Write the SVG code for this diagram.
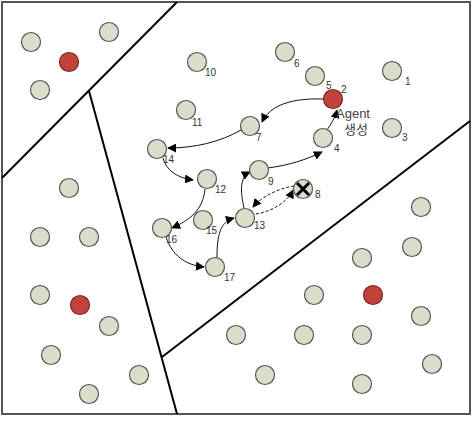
<svg xmlns="http://www.w3.org/2000/svg" width="474" height="447" viewBox="0 0 474 447">
<style>
.n{fill:#dcdccb;stroke:#555;stroke-width:1.2}
.r{fill:#c2433a;stroke:#7a2a24;stroke-width:1.2}
.b{stroke:#000;stroke-width:2;fill:none}
.c{stroke:#111;stroke-width:1;fill:none}
.d{stroke:#111;stroke-width:1;fill:none;stroke-dasharray:3,2}
text{font-family:"Liberation Sans",Arial,sans-serif;font-size:10px;fill:#333}
.a{font-family:"Liberation Sans","Noto Sans CJK KR",sans-serif;font-size:13px;fill:#444}
</style>
<defs>
<marker id="ah" viewBox="0 0 10 10" refX="9" refY="5" markerWidth="9" markerHeight="9" markerUnits="userSpaceOnUse" orient="auto"><path d="M0,0 L10,5 L0,10 z" fill="#000"/></marker>
</defs>
<rect x="0" y="0" width="474" height="447" fill="#fff"/>
<rect x="2" y="2" width="468" height="412" fill="#fff" stroke="#555" stroke-width="2"/>
<g id="borders">
<path class="b" d="M177,2 L2,178"/>
<path class="b" d="M89,91 L177,414"/>
<path class="b" d="M162,357 L470,121"/>
</g>
<g id="connectors">
<path class="c" d="M323,99 C292,98 270,105 262,122" marker-end="url(#ah)"/>
<path class="c" d="M241,130 C220,142 195,148 168,148" marker-end="url(#ah)"/>
<path class="c" d="M163,158 C166,170 177,178 193,180" marker-end="url(#ah)"/>
<path class="c" d="M205,189 C203,210 190,220 172,228" marker-end="url(#ah)"/>
<path class="c" d="M166,237 C172,255 185,265 204,267" marker-end="url(#ah)"/>
<path class="c" d="M217,258 C217,235 220,222 234,218" marker-end="url(#ah)"/>
<path class="c" d="M244,208 C240,190 240,177 250,172" marker-end="url(#ah)"/>
<path class="c" d="M268,168 C290,165 305,160 322,152" marker-end="url(#ah)"/>
<path class="c" d="M327,130 C331,124 335,118 337,110" marker-end="url(#ah)"/>
<path class="d" d="M294,186 C280,188 262,196 253,207" marker-end="url(#ah)"/>
<path class="d" d="M256,214 C270,212 287,203 293,190" marker-end="url(#ah)"/>
</g>
<g id="n-a1"><circle class="n" cx="31" cy="42" r="9.5"/></g>
<g id="n-a2"><circle class="n" cx="109" cy="32" r="9.5"/></g>
<g id="n-a3"><circle class="r" cx="69" cy="62" r="9.5"/></g>
<g id="n-a4"><circle class="n" cx="40" cy="90" r="9.5"/></g>
<g id="n10"><circle class="n" cx="197" cy="62" r="9.5"/><text x="205" y="76">10</text></g>
<g id="n11"><circle class="n" cx="186" cy="110" r="9.5"/><text x="192" y="126">11</text></g>
<g id="n6"><circle class="n" cx="285" cy="52" r="9.5"/><text x="294" y="67">6</text></g>
<g id="n5"><circle class="n" cx="315" cy="76" r="9.5"/><text x="326" y="89">5</text></g>
<g id="n2"><circle class="r" cx="333" cy="99" r="9.5"/><text x="341" y="93">2</text></g>
<g id="n1"><circle class="n" cx="392" cy="71" r="9.5"/><text x="405" y="85">1</text></g>
<g id="n3"><circle class="n" cx="392" cy="128" r="9.5"/><text x="402" y="141">3</text></g>
<g id="n4"><circle class="n" cx="323" cy="138" r="9.5"/><text x="334" y="152">4</text></g>
<g id="n7"><circle class="n" cx="250" cy="126" r="9.5"/><text x="256" y="141">7</text></g>
<g id="agent"><text class="a" x="336" y="118">Agent</text><text class="a" x="344" y="134">생성</text></g>
<g id="n14"><circle class="n" cx="157" cy="149" r="9.5"/><text x="163" y="163">14</text></g>
<g id="n12"><circle class="n" cx="207" cy="179" r="9.5"/><text x="215" y="193">12</text></g>
<g id="n9"><circle class="n" cx="259" cy="170" r="9.5"/><text x="268" y="185">9</text></g>
<g id="n8"><circle class="n" cx="303" cy="189" r="9.5"/><path d="M297,183 L309,195 M309,183 L297,195" stroke="#000" stroke-width="3"/><text x="315" y="198">8</text></g>
<g id="n13"><circle class="n" cx="245" cy="218" r="9.5"/><text x="254" y="229">13</text></g>
<g id="n15"><circle class="n" cx="203" cy="220" r="9.5"/><text x="206" y="234">15</text></g>
<g id="n16"><circle class="n" cx="162" cy="228" r="9.5"/><text x="166" y="243">16</text></g>
<g id="n17"><circle class="n" cx="215" cy="267" r="9.5"/><text x="224" y="281">17</text></g>
<g id="n-b1"><circle class="n" cx="69" cy="188" r="9.5"/></g>
<g id="n-b2"><circle class="n" cx="40" cy="237" r="9.5"/></g>
<g id="n-b3"><circle class="n" cx="89" cy="237" r="9.5"/></g>
<g id="n-b4"><circle class="n" cx="40" cy="295" r="9.5"/></g>
<g id="n-b5"><circle class="r" cx="80" cy="305" r="9.5"/></g>
<g id="n-b6"><circle class="n" cx="109" cy="326" r="9.5"/></g>
<g id="n-b7"><circle class="n" cx="51" cy="355" r="9.5"/></g>
<g id="n-b8"><circle class="n" cx="139" cy="375" r="9.5"/></g>
<g id="n-b9"><circle class="n" cx="89" cy="394" r="9.5"/></g>
<g id="n-c1"><circle class="n" cx="421" cy="207" r="9.5"/></g>
<g id="n-c2"><circle class="n" cx="412" cy="247" r="9.5"/></g>
<g id="n-c3"><circle class="n" cx="362" cy="258" r="9.5"/></g>
<g id="n-c4"><circle class="n" cx="314" cy="295" r="9.5"/></g>
<g id="n-c5"><circle class="r" cx="373" cy="295" r="9.5"/></g>
<g id="n-c6"><circle class="n" cx="421" cy="316" r="9.5"/></g>
<g id="n-c7"><circle class="n" cx="236" cy="335" r="9.5"/></g>
<g id="n-c8"><circle class="n" cx="304" cy="335" r="9.5"/></g>
<g id="n-c9"><circle class="n" cx="362" cy="335" r="9.5"/></g>
<g id="n-c10"><circle class="n" cx="432" cy="364" r="9.5"/></g>
<g id="n-c11"><circle class="n" cx="265" cy="375" r="9.5"/></g>
<g id="n-c12"><circle class="n" cx="362" cy="384" r="9.5"/></g>
</svg>
